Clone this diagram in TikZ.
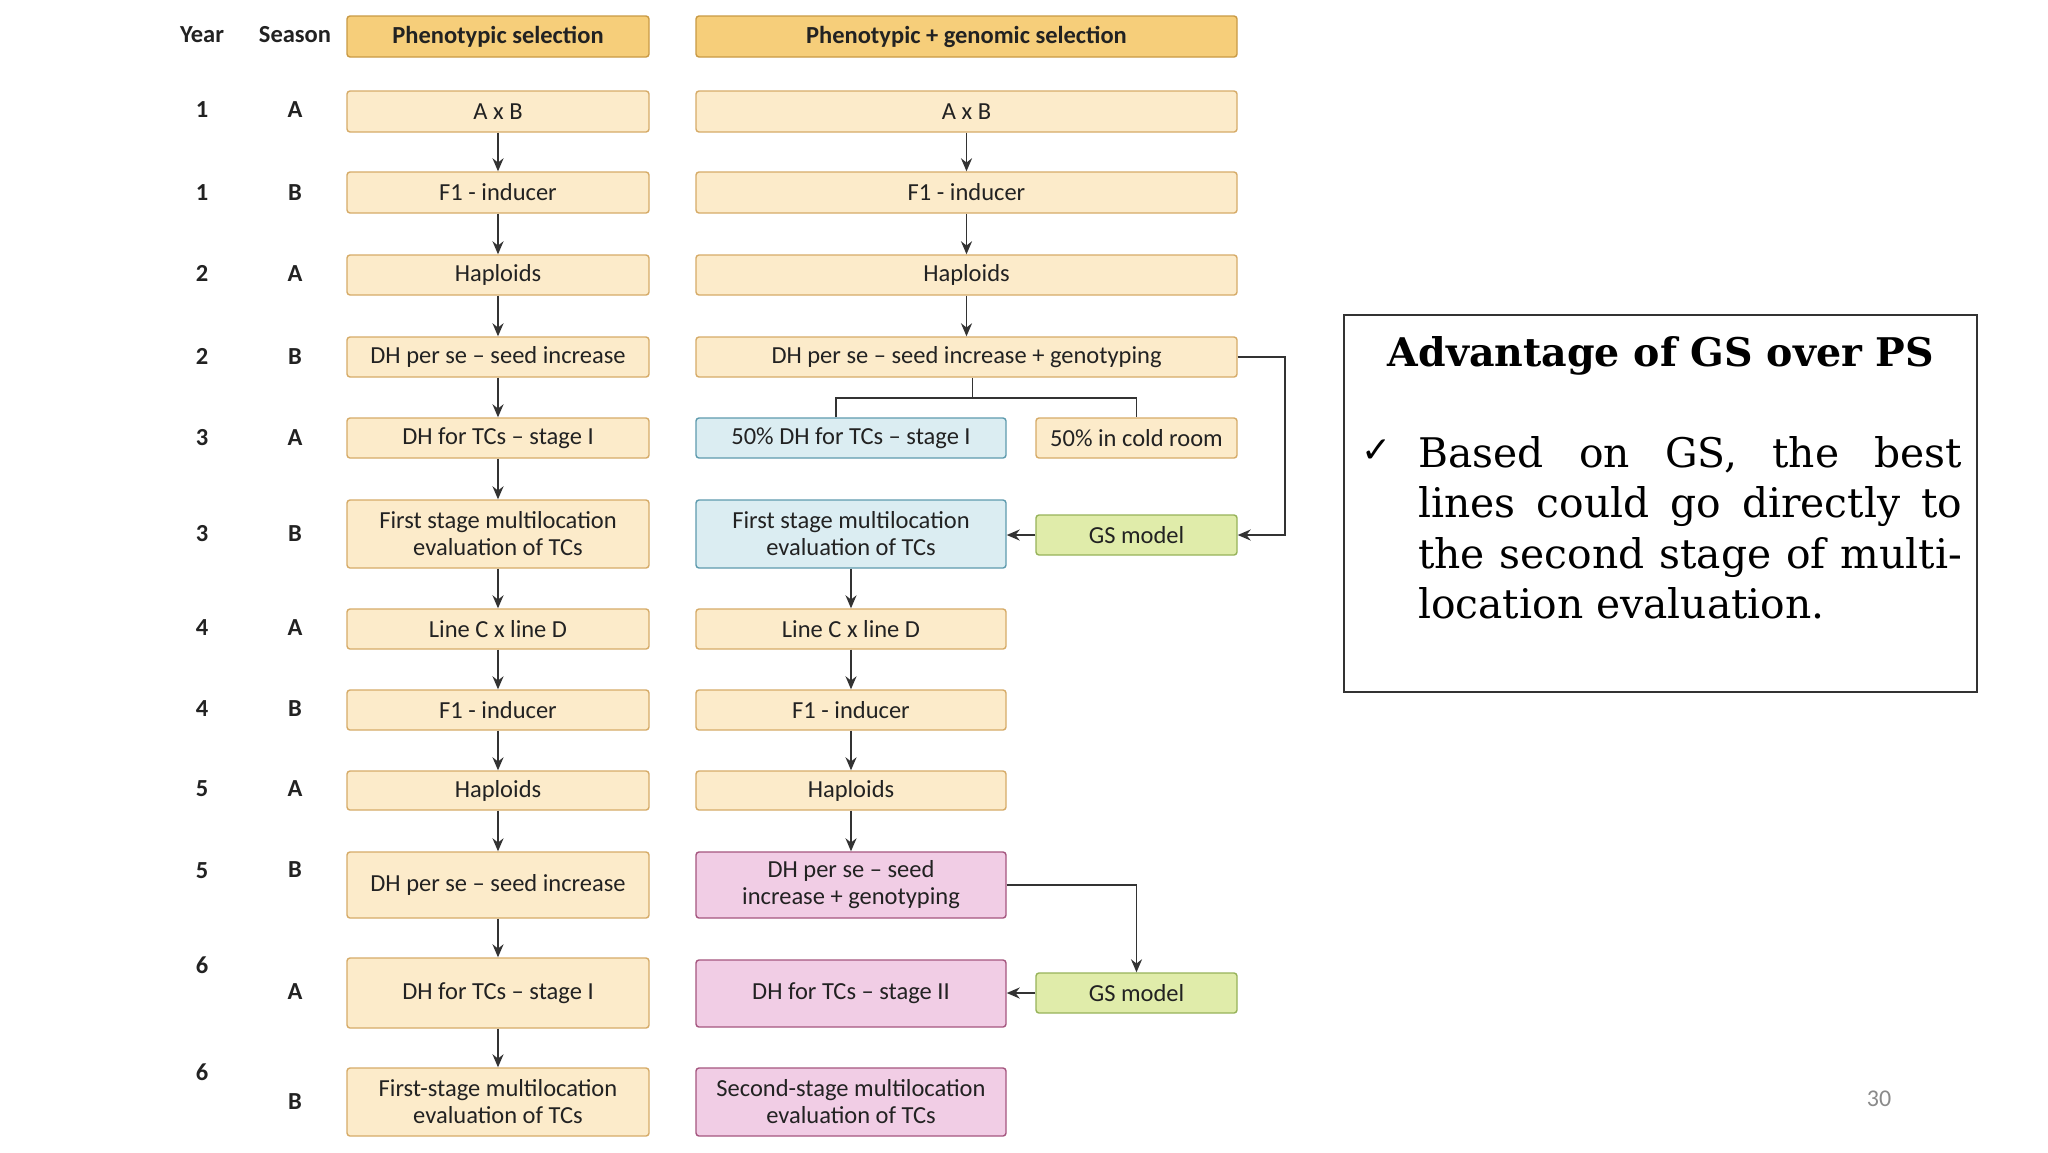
\documentclass[tikz,border=0pt]{standalone}
\usepackage{fontspec}
\setmainfont{Carlito}
\newfontfamily\djserif{DejaVu Serif}
\newfontfamily\djsans{DejaVu Sans}
\usetikzlibrary{arrows.meta,calc}
\definecolor{hdrfill}{HTML}{F6CE7A}
\definecolor{hdrdraw}{HTML}{C99A45}
\definecolor{pfill}{HTML}{FCEBCA}
\definecolor{pdraw}{HTML}{D6AB68}
\definecolor{bfill}{HTML}{DBEDF2}
\definecolor{bdraw}{HTML}{5E9BAE}
\definecolor{kfill}{HTML}{F1CDE5}
\definecolor{kdraw}{HTML}{A5567F}
\definecolor{gfill}{HTML}{E0ECAA}
\definecolor{gdraw}{HTML}{97B35A}
\definecolor{txt}{HTML}{222222}
\definecolor{ln}{HTML}{333333}
\definecolor{pgnum}{HTML}{8A8A8A}
\begin{document}
\begin{tikzpicture}[x=1pt,y=-1pt,
  base/.style={draw, rounded corners=3pt, line width=1.4pt, align=center, inner sep=0pt, text=txt, font=\fontsize{24.5}{27}\selectfont},
  hdr/.style={base, fill=hdrfill, draw=hdrdraw, font=\bfseries\fontsize{24.5}{27}\selectfont},
  pbox/.style={base, fill=pfill, draw=pdraw},
  bbox/.style={base, fill=bfill, draw=bdraw},
  kbox/.style={base, fill=kfill, draw=kdraw},
  gbox/.style={base, fill=gfill, draw=gdraw},
  colL/.style={minimum width=302pt},
  colW/.style={minimum width=541pt},
  colN/.style={minimum width=310pt},
  colS/.style={minimum width=201pt},
  lab/.style={font=\bfseries\fontsize{24.5}{27}\selectfont, text=txt, inner sep=0pt, text height=15.5pt, text depth=0pt},
  arr/.style={draw=ln, line width=1.8pt, -{Stealth[length=13pt,width=11pt]}},
  con/.style={draw=ln, line width=1.8pt},
]
\useasboundingbox (0,0) rectangle (2048,1152);
\fill[white] (0,0) rectangle (2048,1152);

% column headers
\node[lab] (yr) at (202,35) {Year};
\node[lab] (ss) at (295,35) {Season};
\node[hdr,colL,minimum height=41pt] (h1) at (498,36.5) {Phenotypic selection};
\node[hdr,colW,minimum height=41pt] (h2) at (966.5,36.5) {Phenotypic + genomic selection};

% year / season labels
\node[lab] (y1) at (202,110) {1};   \node[lab] (s1) at (295,110) {A};
\node[lab] (y2) at (202,193) {1};   \node[lab] (s2) at (295,193) {B};
\node[lab] (y3) at (202,274) {2};   \node[lab] (s3) at (295,274) {A};
\node[lab] (y4) at (202,357) {2};   \node[lab] (s4) at (295,357) {B};
\node[lab] (y5) at (202,438) {3};   \node[lab] (s5) at (295,438) {A};
\node[lab] (y6) at (202,534) {3};   \node[lab] (s6) at (295,534) {B};
\node[lab] (y7) at (202,628) {4};   \node[lab] (s7) at (295,628) {A};
\node[lab] (y8) at (202,709) {4};   \node[lab] (s8) at (295,709) {B};
\node[lab] (y9) at (202,789) {5};   \node[lab] (s9) at (295,789) {A};
\node[lab] (y10) at (202,871) {5};  \node[lab] (s10) at (295,870) {B};
\node[lab] (y11) at (202,966) {6};  \node[lab] (s11) at (295,992) {A};
\node[lab] (y12) at (202,1073) {6}; \node[lab] (s12) at (295,1102) {B};

% left column
\node[pbox,colL,minimum height=41pt] (l1) at (498,111.5) {A x B};
\node[pbox,colL,minimum height=41pt] (l2) at (498,192.5) {F1 - inducer};
\node[pbox,colL,minimum height=40pt] (l3) at (498,275) {Haploids};
\node[pbox,colL,minimum height=40pt] (l4) at (498,357) {DH per se – seed increase};
\node[pbox,colL,minimum height=40pt] (l5) at (498,438) {DH for TCs – stage I};
\node[pbox,colL,minimum height=68pt] (l6) at (498,534) {First stage multilocation\\evaluation of TCs};
\node[pbox,colL,minimum height=40pt] (l7) at (498,629) {Line C x line D};
\node[pbox,colL,minimum height=40pt] (l8) at (498,710) {F1 - inducer};
\node[pbox,colL,minimum height=39pt] (l9) at (498,790.5) {Haploids};
\node[pbox,colL,minimum height=66pt] (l10) at (498,885) {DH per se – seed increase};
\node[pbox,colL,minimum height=70pt] (l11) at (498,993) {DH for TCs – stage I};
\node[pbox,colL,minimum height=68pt] (l12) at (498,1102) {First-stage multilocation\\evaluation of TCs};

\foreach \a/\b in {l1/l2,l2/l3,l3/l4,l4/l5,l5/l6,l6/l7,l7/l8,l8/l9,l9/l10,l10/l11,l11/l12}
  \draw[arr] (\a) -- (\b);

% right column
\node[pbox,colW,minimum height=41pt] (r1) at (966.5,111.5) {A x B};
\node[pbox,colW,minimum height=41pt] (r2) at (966.5,192.5) {F1 - inducer};
\node[pbox,colW,minimum height=40pt] (r3) at (966.5,275) {Haploids};
\node[pbox,colW,minimum height=40pt] (r4) at (966.5,357) {DH per se – seed increase + genotyping};
\node[bbox,colN,minimum height=40pt] (r5) at (851,438) {50\% DH for TCs – stage I};
\node[pbox,colS,minimum height=40pt] (r5b) at (1136.5,438) {50\% in cold room};
\node[bbox,colN,minimum height=68pt] (r6) at (851,534) {First stage multilocation\\evaluation of TCs};
\node[gbox,colS,minimum height=40pt] (g1) at (1136.5,535) {GS model};
\node[pbox,colN,minimum height=40pt] (r7) at (851,629) {Line C x line D};
\node[pbox,colN,minimum height=40pt] (r8) at (851,710) {F1 - inducer};
\node[pbox,colN,minimum height=39pt] (r9) at (851,790.5) {Haploids};
\node[kbox,colN,minimum height=66pt] (r10) at (851,885) {DH per se – seed\\increase + genotyping};
\node[kbox,colN,minimum height=67pt] (r11) at (851,993.5) {DH for TCs – stage II};
\node[gbox,colS,minimum height=40pt] (g2) at (1136.5,993) {GS model};
\node[kbox,colN,minimum height=68pt] (r12) at (851,1102) {Second-stage multilocation\\evaluation of TCs};

\foreach \a/\b in {r1/r2,r2/r3,r3/r4,r6/r7,r7/r8,r8/r9,r9/r10}
  \draw[arr] (\a) -- (\b);

% branch from r4
\coordinate (br) at ($(r4.south)+(6,20)$);
\draw[con] ([xshift=6pt]r4.south) -- (br);
\draw[con] ([xshift=-15pt]r5.north) |- (br) -| (r5b.north);

% GS model feedback loops
\draw[arr] (r4.east) -- ++(47,0) |- (g1.east);
\draw[arr] (g1.west) -- (g1.west -| r6.east);
\draw[arr] (r10.east) -| (g2.north);
\draw[arr] (g2.west) -- (g2.west -| r11.east);

% text panel
\node[draw=black!80, line width=1.6pt, minimum width=633pt, minimum height=377pt, inner sep=0pt] (tb) at (1660.5,503.5) {};
\node[font=\djserif\bfseries\fontsize{39.5}{44}\selectfont, anchor=base, inner sep=0pt] (title) at (1661,366) {Advantage of GS over PS};
\node[font=\djsans\fontsize{36}{36}\selectfont, anchor=base west, inner sep=0pt] (chk) at (1361,462) {✓};
\node[anchor=base west, inner sep=0pt] (body) at (1418,467) {\parbox[t]{544pt}{\djserif\fontsize{40.8}{50.5}\selectfont\tolerance=10000\hbadness=10000
Based on GS, the best\linebreak lines could go directly to\linebreak the second stage of multi-\linebreak location evaluation.}};

% page number
\node[font=\fontsize{24}{24}\selectfont, text=pgnum, inner sep=0pt] (pg) at (1879,1099) {30};
\end{tikzpicture}
\end{document}
